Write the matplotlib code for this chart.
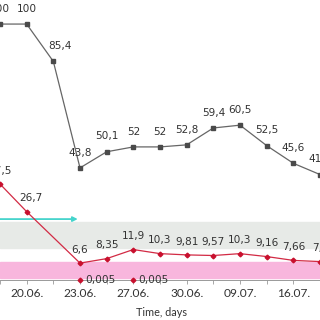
import numpy as np
import matplotlib.pyplot as plt

# categories (only every other date is labelled on the axis)
dates = ['', '20.06.', '', '23.06.', '', '27.06.', '', '30.06.', '', '09.07.', '', '16.07.', '']
gray_vals = [100, 100, 85.4, 43.8, 50.1, 52, 52, 52.8, 59.4, 60.5, 52.5, 45.6, 41.2]
gray_labels = ['100', '100', '85,4', '43,8', '50,1', '52', '52', '52,8', '59,4', '60,5', '52,5', '45,6', '41,2']
red_vals = [37.5, 26.7, np.nan, 6.6, 8.35, 11.9, 10.3, 9.81, 9.57, 10.3, 9.16, 7.66, 7.2]
red_labels = ['37,5', '26,7', '', '6,6', '8,35', '11,9', '10,3', '9,81', '9,57', '10,3', '9,16', '7,66', '7,2']
low_idx = [3, 5]
low_vals = [0.005, 0.005]
low_labels = ['0,005', '0,005']
gray_band = (12.5, 22.5)
pink_band = (0.7, 7.0)
arrow_level = 23.8

fig = plt.figure(figsize=(3.2, 3.2), dpi=100)
ax = fig.add_axes([0, 0.125, 1, 0.875])

x = np.arange(len(dates))
ax.axhspan(*gray_band, color='#e7eae7', zorder=0)
ax.axhspan(*pink_band, color='#f8b6dd', zorder=0)

ax.annotate('', xy=(3.02, arrow_level), xytext=(-1, arrow_level),
            arrowprops=dict(arrowstyle='-|>', color='#45d4cc', lw=1.3,
                            mutation_scale=7), zorder=2)

ax.plot(x, gray_vals, color='#666666', lw=0.9, marker='s', ms=2.6,
        mfc='#4a4a4a', mec='#4a4a4a', zorder=3)
ok = ~np.isnan(red_vals)
ax.plot(x[ok], np.array(red_vals)[ok], color='#d22a44', lw=0.9, marker='D',
        ms=2.4, mfc='#c8102e', mec='#c8102e', zorder=3)
ax.plot(low_idx, low_vals, ls='none', marker='D', ms=2.4, color='#c8102e',
        zorder=4, clip_on=False)

lab = dict(fontsize=7.6, color='#333333', ha='center', va='center',
           family='DejaVu Sans', clip_on=False)
for i, (v, t) in enumerate(zip(gray_vals, gray_labels)):
    dx = 0.25 if t == '85,4' else 0
    ax.annotate(t, (i + dx, v), xytext=(0, 11), textcoords='offset points', **lab)
for i, (v, t) in enumerate(zip(red_vals, red_labels)):
    if t:
        dx = 0.17 if t == '26,7' else 0
        ax.annotate(t, (i + dx, v), xytext=(0, 9.5), textcoords='offset points', **lab)
for i, v, t in zip(low_idx, low_vals, low_labels):
    ax.annotate(t, (i, v), xytext=(3.5, 0), textcoords='offset points',
                **{**lab, 'ha': 'left'})

ax.set_xlim(0.115, 11.73)
ax.set_ylim(0, 109.4)
ax.set_xticks(x)
ax.set_xticklabels(dates, fontsize=8.6, color='#333333', family='Lato')
ax.tick_params(axis='x', length=3, width=0.6, color='#999999', pad=2.5)
ax.set_yticks([])
for s in ['top', 'right', 'left']:
    ax.spines[s].set_visible(False)
ax.spines['bottom'].set_color('#999999')
ax.spines['bottom'].set_linewidth(0.7)

fig.text(0.506, 0.025, 'Time, days', fontsize=7.8, color='#333333',
         family='Lato', ha='center', va='center')

fig.savefig('out.png', dpi=100)
